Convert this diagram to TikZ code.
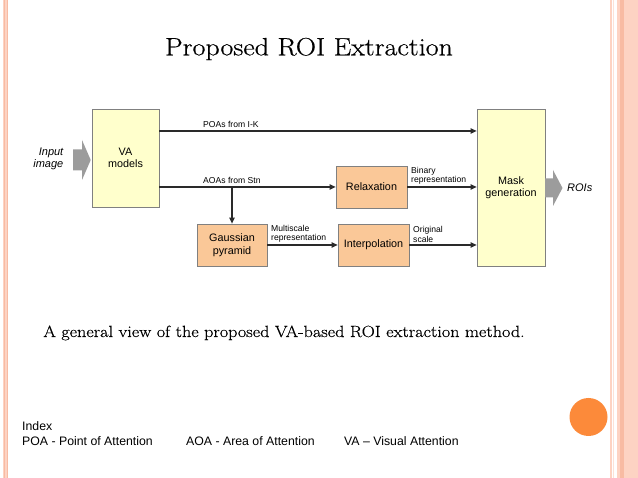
\documentclass[tikz,border=0pt]{standalone}
\usepackage{fontspec}
\newfontfamily\arial{Liberation Sans}
\newfontfamily\slidefont{Latin Modern Roman}[FakeStretch=1.12, FakeBold=0.5]
\usetikzlibrary{arrows.meta}
\definecolor{boxyellow}{HTML}{FFFFCC}
\definecolor{boxorange}{HTML}{FAC898}
\definecolor{boxedge}{HTML}{808080}
\definecolor{blockgray}{HTML}{9C9C9C}
\definecolor{linedark}{HTML}{2A2A2A}
\definecolor{pinkA}{HTML}{FDD3C3}
\definecolor{pinkB}{HTML}{F8BBA3}
\definecolor{pinkC}{HTML}{FCE2D8}
\definecolor{dotorange}{HTML}{FC8A3A}
\tikzset{
  x=1pt, y=-1pt,
  ybox/.style={draw=boxedge, line width=0.8pt, fill=boxyellow, inner sep=0pt, align=center,
    font=\arial\fontsize{10.8}{12.5}\selectfont},
  obox/.style={draw=boxedge, line width=0.8pt, fill=boxorange, inner sep=0pt, align=center,
    font=\arial\fontsize{10.8}{12.5}\selectfont, minimum width=71pt, minimum height=42pt},
  flow/.style={draw=linedark, line width=1.2pt, -{Triangle[length=6pt,width=5.5pt]}},
  lbl/.style={font=\arial\fontsize{8.6}{9.5}\selectfont, align=left, inner sep=0pt},
  itl/.style={font=\arial\itshape\fontsize{11}{12.5}\selectfont, inner sep=0pt},
  idxtext/.style={font=\arial\fontsize{12.3}{14}\selectfont, inner sep=0pt, anchor=base west},
}
\begin{document}
\begin{tikzpicture}
\useasboundingbox (0,0) rectangle (638,478);
\fill[white] (0,0) rectangle (638,478);
% borders
\fill[pinkA] (3,0) rectangle (8,478);
\draw[pinkB, line width=0.7pt] (4,0) -- (4,478);
\draw[pinkB, line width=0.7pt] (7,0) -- (7,478);
\fill[pinkA] (609.5,0) rectangle (611.5,478);
\fill[pinkC] (612.5,0) rectangle (614,478);
\fill[pinkA] (616.5,0) rectangle (638,478);
\fill[pinkB] (620,0) rectangle (624,478);
% title
\node[font=\slidefont\fontsize{25}{30}\selectfont, inner sep=0pt] (title) at (309,49) {Proposed ROI Extraction};
% boxes
\node[ybox, minimum width=67pt, minimum height=98pt] (va) at (125.5,158) {VA\\models};
\node[ybox, minimum width=68pt, minimum height=157pt] (mask) at (511,187.5) {Mask\\generation};
\node[obox] (relax) at (371.5,187) {Relaxation};
\node[obox, minimum width=70pt] (gauss) at (232,245) {Gaussian\\pyramid};
\node[obox] (interp) at (373.5,245) {Interpolation};
% input / output block arrows
\fill[blockgray] (73,149.5) -- (82,149.5) -- (82,140) -- (90.7,160) -- (82,180) -- (82,170.5) -- (73,170.5) -- cycle;
\fill[blockgray] (545,178.5) -- (553,178.5) -- (553,170) -- (562.5,188) -- (553,206) -- (553,197.5) -- (545,197.5) -- cycle;
\node[itl, align=right, anchor=east] (inp) at (63.5,159) {Input\\image};
\node[itl, anchor=west] (rois) at (567,187.5) {ROIs};
% connectors
\coordinate (p1) at (0,131);
\coordinate (a1) at (0,187);
\draw[flow] (va.east |- p1) -- (mask.west |- p1);
\draw[flow] (va.east |- a1) -- (relax.west);
\draw[flow] (gauss.north |- a1) -- (gauss.north);
\draw[flow] (relax.east) -- (mask.west |- relax.east);
\draw[flow] (gauss.east) -- (interp.west);
\draw[flow] (interp.east) -- (mask.west |- interp.east);
% labels
\node[lbl, anchor=base west] (lpoa) at (203,127.5) {POAs from I-K};
\node[lbl, anchor=base west] (laoa) at (203,184) {AOAs from Stn};
\node[lbl, anchor=south west] (lbin) at (411,184.5) {Binary\\representation};
\node[lbl, anchor=south west] (lmul) at (271,242.5) {Multiscale\\representation};
\node[lbl, anchor=south west] (lori) at (413,242.5) {Original\\scale};
% caption
\node[font=\slidefont\fontsize{16.2}{20}\selectfont, inner sep=0pt, anchor=base] (cap) at (284,337) {A general view of the proposed VA-based ROI extraction method.};
% index
\node[idxtext] (idx) at (22,431) {Index};
\node[idxtext] (i1) at (22,446) {POA - Point of Attention};
\node[idxtext] (i2) at (186,446) {AOA - Area of Attention};
\node[idxtext] (i3) at (344,446) {VA – Visual Attention};
% orange dot
\fill[dotorange] (588.5,417) circle (19);
\end{tikzpicture}
\end{document}
